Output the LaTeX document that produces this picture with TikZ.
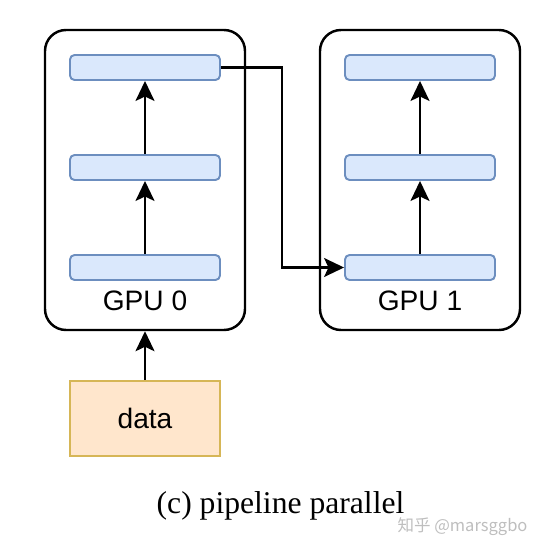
\documentclass[tikz,border=0pt]{standalone}
\usepackage{fontspec}
\setmainfont{Liberation Serif}
\setsansfont{Liberation Sans}
\newfontfamily\cjkfont{Noto Sans CJK SC}
\usetikzlibrary{arrows.meta}
\definecolor{layerfill}{RGB}{218,232,252}
\definecolor{layerline}{RGB}{108,142,191}
\definecolor{datafill}{RGB}{255,230,204}
\definecolor{dataline}{RGB}{214,182,86}
\definecolor{markgray}{RGB}{190,190,190}
\tikzset{
  gpubox/.style={draw, line width=1.4pt, rounded corners=0.42cm, minimum width=4cm, minimum height=6cm},
  layerbox/.style={draw=layerline, fill=layerfill, line width=1.1pt, rounded corners=0.09cm, minimum width=3cm, minimum height=0.5cm},
  databox/.style={draw=dataline, fill=datafill, line width=1.4pt, minimum width=3cm, minimum height=1.5cm, font=\sffamily\fontsize{16}{19}\selectfont},
  gpulabel/.style={font=\sffamily\fontsize{16}{19}\selectfont},
  flow/.style={-{Stealth[length=0.4cm,width=0.38cm,inset=0.09cm]}, line width=1.3pt},
}
\newcommand{\stagecolumn}[2]{
  \foreach \n/\y in {a/-5.35, b/-3.35, c/-1.35}{
    \node[layerbox] (#1\n) at (#2,\y) {};
  }
  \draw[flow] (#1a.north) -- (#1b.south);
  \draw[flow] (#1b.north) -- (#1c.south);
}

\begin{document}
\begin{tikzpicture}
\useasboundingbox (0,0) rectangle (10.88,-10.92);
\node[gpubox] (gpu0) at (2.9,-3.6) {};
\node[gpubox] (gpu1) at (8.4,-3.6) {};
\node[gpulabel] (lab0) at (2.9,-6.02) {GPU 0};
\node[gpulabel] (lab1) at (8.4,-6.02) {GPU 1};
\stagecolumn{l0}{2.9}
\stagecolumn{l1}{8.4}
% activations handed from GPU 0 to GPU 1
\coordinate (bend) at (5.64,-5.35);
\draw[flow] (l0c.east) -| (bend) -- (l1a.west);
\node[databox] (data) at (2.9,-8.37) {data};
\draw[flow] (data.north) -- (gpu0.south);
\node[anchor=base, font=\fontsize{18}{21}\selectfont] (caption) at (5.61,-10.26) {(c) pipeline parallel};
\node[anchor=base, text=markgray, font=\cjkfont\fontsize{9.4}{11}\selectfont] (mark) at (9.25,-10.62) {知乎 @marsggbo};
\end{tikzpicture}
\end{document}
